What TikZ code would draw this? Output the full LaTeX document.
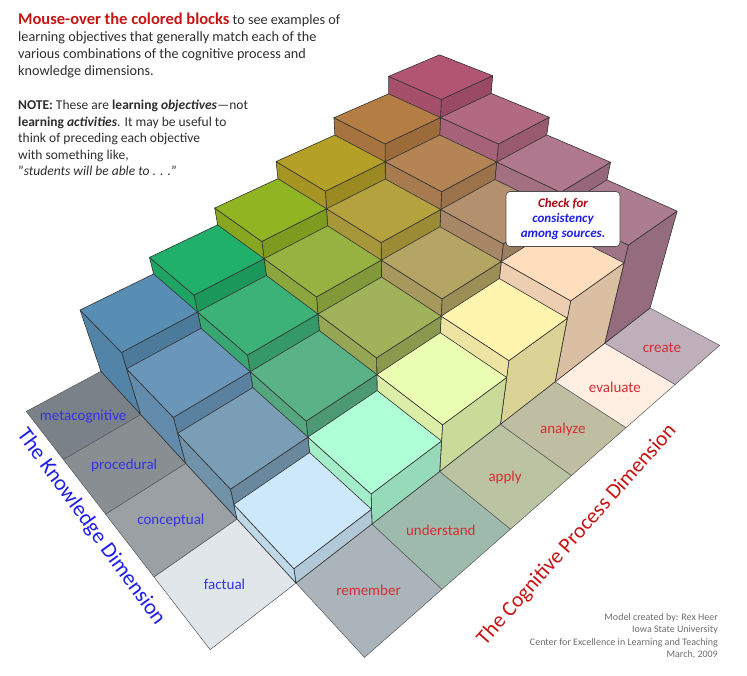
\documentclass[tikz,border=0pt]{standalone}
\usepackage{fontspec}
\setmainfont{Carlito}
\definecolor{hred}{RGB}{200,20,20}
\definecolor{dred}{RGB}{170,10,20}
\definecolor{kblue}{RGB}{30,30,235}
\definecolor{lblue}{RGB}{50,50,230}
\definecolor{lred}{RGB}{215,45,50}
\definecolor{tgray}{RGB}{45,45,45}
\definecolor{cgray}{RGB}{110,110,110}
% blocks
\definecolor{b00}{RGB}{205,232,250}\definecolor{b10}{RGB}{175,255,215}\definecolor{b20}{RGB}{235,255,178}
\definecolor{b30}{RGB}{255,245,175}\definecolor{b40}{RGB}{255,222,190}\definecolor{b50}{RGB}{172,125,145}
\definecolor{b01}{RGB}{122,158,182}\definecolor{b11}{RGB}{90,178,135}\definecolor{b21}{RGB}{160,178,90}
\definecolor{b31}{RGB}{180,165,100}\definecolor{b41}{RGB}{180,145,110}\definecolor{b51}{RGB}{175,120,140}
\definecolor{b02}{RGB}{105,150,185}\definecolor{b12}{RGB}{60,178,120}\definecolor{b22}{RGB}{150,178,65}
\definecolor{b32}{RGB}{180,162,62}\definecolor{b42}{RGB}{180,132,85}\definecolor{b52}{RGB}{178,105,130}
\definecolor{b03}{RGB}{88,142,180}\definecolor{b13}{RGB}{32,176,106}\definecolor{b23}{RGB}{145,180,35}
\definecolor{b33}{RGB}{180,160,38}\definecolor{b43}{RGB}{180,125,68}\definecolor{b53}{RGB}{178,85,115}
% ground
\definecolor{gk0}{RGB}{225,230,235}\definecolor{gk1}{RGB}{155,160,165}\definecolor{gk2}{RGB}{137,142,147}\definecolor{gk3}{RGB}{122,129,136}
\definecolor{gc0}{RGB}{170,180,186}\definecolor{gc1}{RGB}{157,186,172}\definecolor{gc2}{RGB}{186,195,162}
\definecolor{gc3}{RGB}{192,190,162}\definecolor{gc4}{RGB}{255,238,225}\definecolor{gc5}{RGB}{190,175,186}
\newcommand\mkpt[4]{%
 \pgfmathsetmacro\myd{1+0.061*(#2)+0.075*(#3)-0.0217*(#4)}%
 \pgfmathsetmacro\myx{296+(80.6*(#2)-63.4*(#3)-2.1*(#4))/\myd}%
 \pgfmathsetmacro\myy{583+(-62.6*(#2)-68.8*(#3)-14.0*(#4))/\myd}%
 \coordinate (#1) at (\myx,\myy);}
\tikzset{edge/.style={draw=black!80,line width=0.6pt,line join=round},
 gedge/.style={draw=black!65,line width=0.5pt,line join=round},
 glab/.style={font=\fontsize{15}{15}\selectfont}}
\newcommand\cube[3]{%
 \pgfmathtruncatemacro\hh{#1+#2+1}%
 \pgfmathtruncatemacro\ia{#1+1}\pgfmathtruncatemacro\ja{#2+1}%
 \mkpt{p00}{#1}{#2}{0}\mkpt{p10}{\ia}{#2}{0}\mkpt{p01}{#1}{\ja}{0}%
 \mkpt{q00}{#1}{#2}{\hh}\mkpt{q10}{\ia}{#2}{\hh}\mkpt{q11}{\ia}{\ja}{\hh}\mkpt{q01}{#1}{\ja}{\hh}%
 \draw[edge,fill=#3!86!black] (p00)--(p10)--(q10)--(q00)--cycle;
 \draw[edge,fill=#3!93!black] (p00)--(p01)--(q01)--(q00)--cycle;
 \draw[edge,fill=#3] (q00)--(q10)--(q11)--(q01)--cycle;}
\newcommand\gcell[5]{% i j color label labelcolor
 \pgfmathtruncatemacro\ia{#1+1}\pgfmathtruncatemacro\ja{#2+1}%
 \mkpt{g00}{#1}{#2}{0}\mkpt{g10}{\ia}{#2}{0}\mkpt{g11}{\ia}{\ja}{0}\mkpt{g01}{#1}{\ja}{0}%
 \mkpt{gc}{#1+0.5}{#2+0.5}{0}%
 \draw[gedge,fill=#3] (g00)--(g10)--(g11)--(g01)--cycle;
 \node[glab,text=#5,yshift=-4pt] (lab#4) at (gc) {#4};}
\begin{document}
\begin{tikzpicture}[x=1pt,y=-1pt]
\useasboundingbox (0,0) rectangle (747,675);
% ground
\gcell{-1}{0}{gk0}{factual}{lblue}
\gcell{-1}{1}{gk1}{conceptual}{lblue}
\gcell{-1}{2}{gk2}{procedural}{lblue}
\gcell{-1}{3}{gk3}{metacognitive}{lblue}
\gcell{0}{-1}{gc0}{remember}{lred}
\gcell{1}{-1}{gc1}{understand}{lred}
\gcell{2}{-1}{gc2}{apply}{lred}
\gcell{3}{-1}{gc3}{analyze}{lred}
\gcell{4}{-1}{gc4}{evaluate}{lred}
\gcell{5}{-1}{gc5}{create}{lred}
% blocks back to front
\foreach \i/\j in {5/3, 5/2,4/3, 5/1,4/2,3/3, 5/0,4/1,3/2,2/3, 4/0,3/1,2/2,1/3, 3/0,2/1,1/2,0/3, 2/0,1/1,0/2, 1/0,0/1, 0/0}{
 \cube{\i}{\j}{b\i\j}}
% callout
\node[draw=black!70,fill=white,rounded corners=4pt,line width=0.7pt,minimum width=114pt,minimum height=55pt,
 align=center,font=\fontsize{13}{15}\selectfont\bfseries\itshape] (call) at (563,219)
 {\textcolor{dred}{Check for}\\\textcolor{kblue}{consistency}\\\textcolor{kblue}{among sources.}};
% axis titles
\node[text=kblue,rotate=-54,font=\fontsize{22}{22}\selectfont] (kdim) at (91,527) {The Knowledge Dimension};
\node[text=hred,rotate=48.3,font=\fontsize{21.5}{22}\selectfont] (cdim) at (577,535) {The Cognitive Process Dimension};
% header
\node[anchor=north west,align=left,text=tgray,inner sep=0pt,font=\fontsize{14.2}{17}\selectfont] (head) at (18,13)
 {{\color{hred}\bfseries\fontsize{16.5}{17}\selectfont Mouse-over the colored blocks} to see examples of\\
 learning objectives that generally match each of the\\
 various combinations of the cognitive process and\\
 knowledge dimensions.};
\node[anchor=north west,align=left,text=tgray,inner sep=0pt,font=\fontsize{13.5}{16.5}\selectfont] (note) at (18,100)
 {\textbf{NOTE:} These are \textbf{learning \textit{objectives}}—not\\
 \textbf{learning \textit{activities}}. It may be useful to\\
 think of preceding each objective\\
 with something like,\\
 \symbol{34}\textit{students will be able to . . .}\symbol{34}};
\node[anchor=north east,align=right,text=cgray,inner sep=0pt,font=\fontsize{10}{12.5}\selectfont] (cred) at (718,613)
 {Model created by: Rex Heer\\Iowa State University\\Center for Excellence in Learning and Teaching\\March, 2009};
\end{tikzpicture}
\end{document}
